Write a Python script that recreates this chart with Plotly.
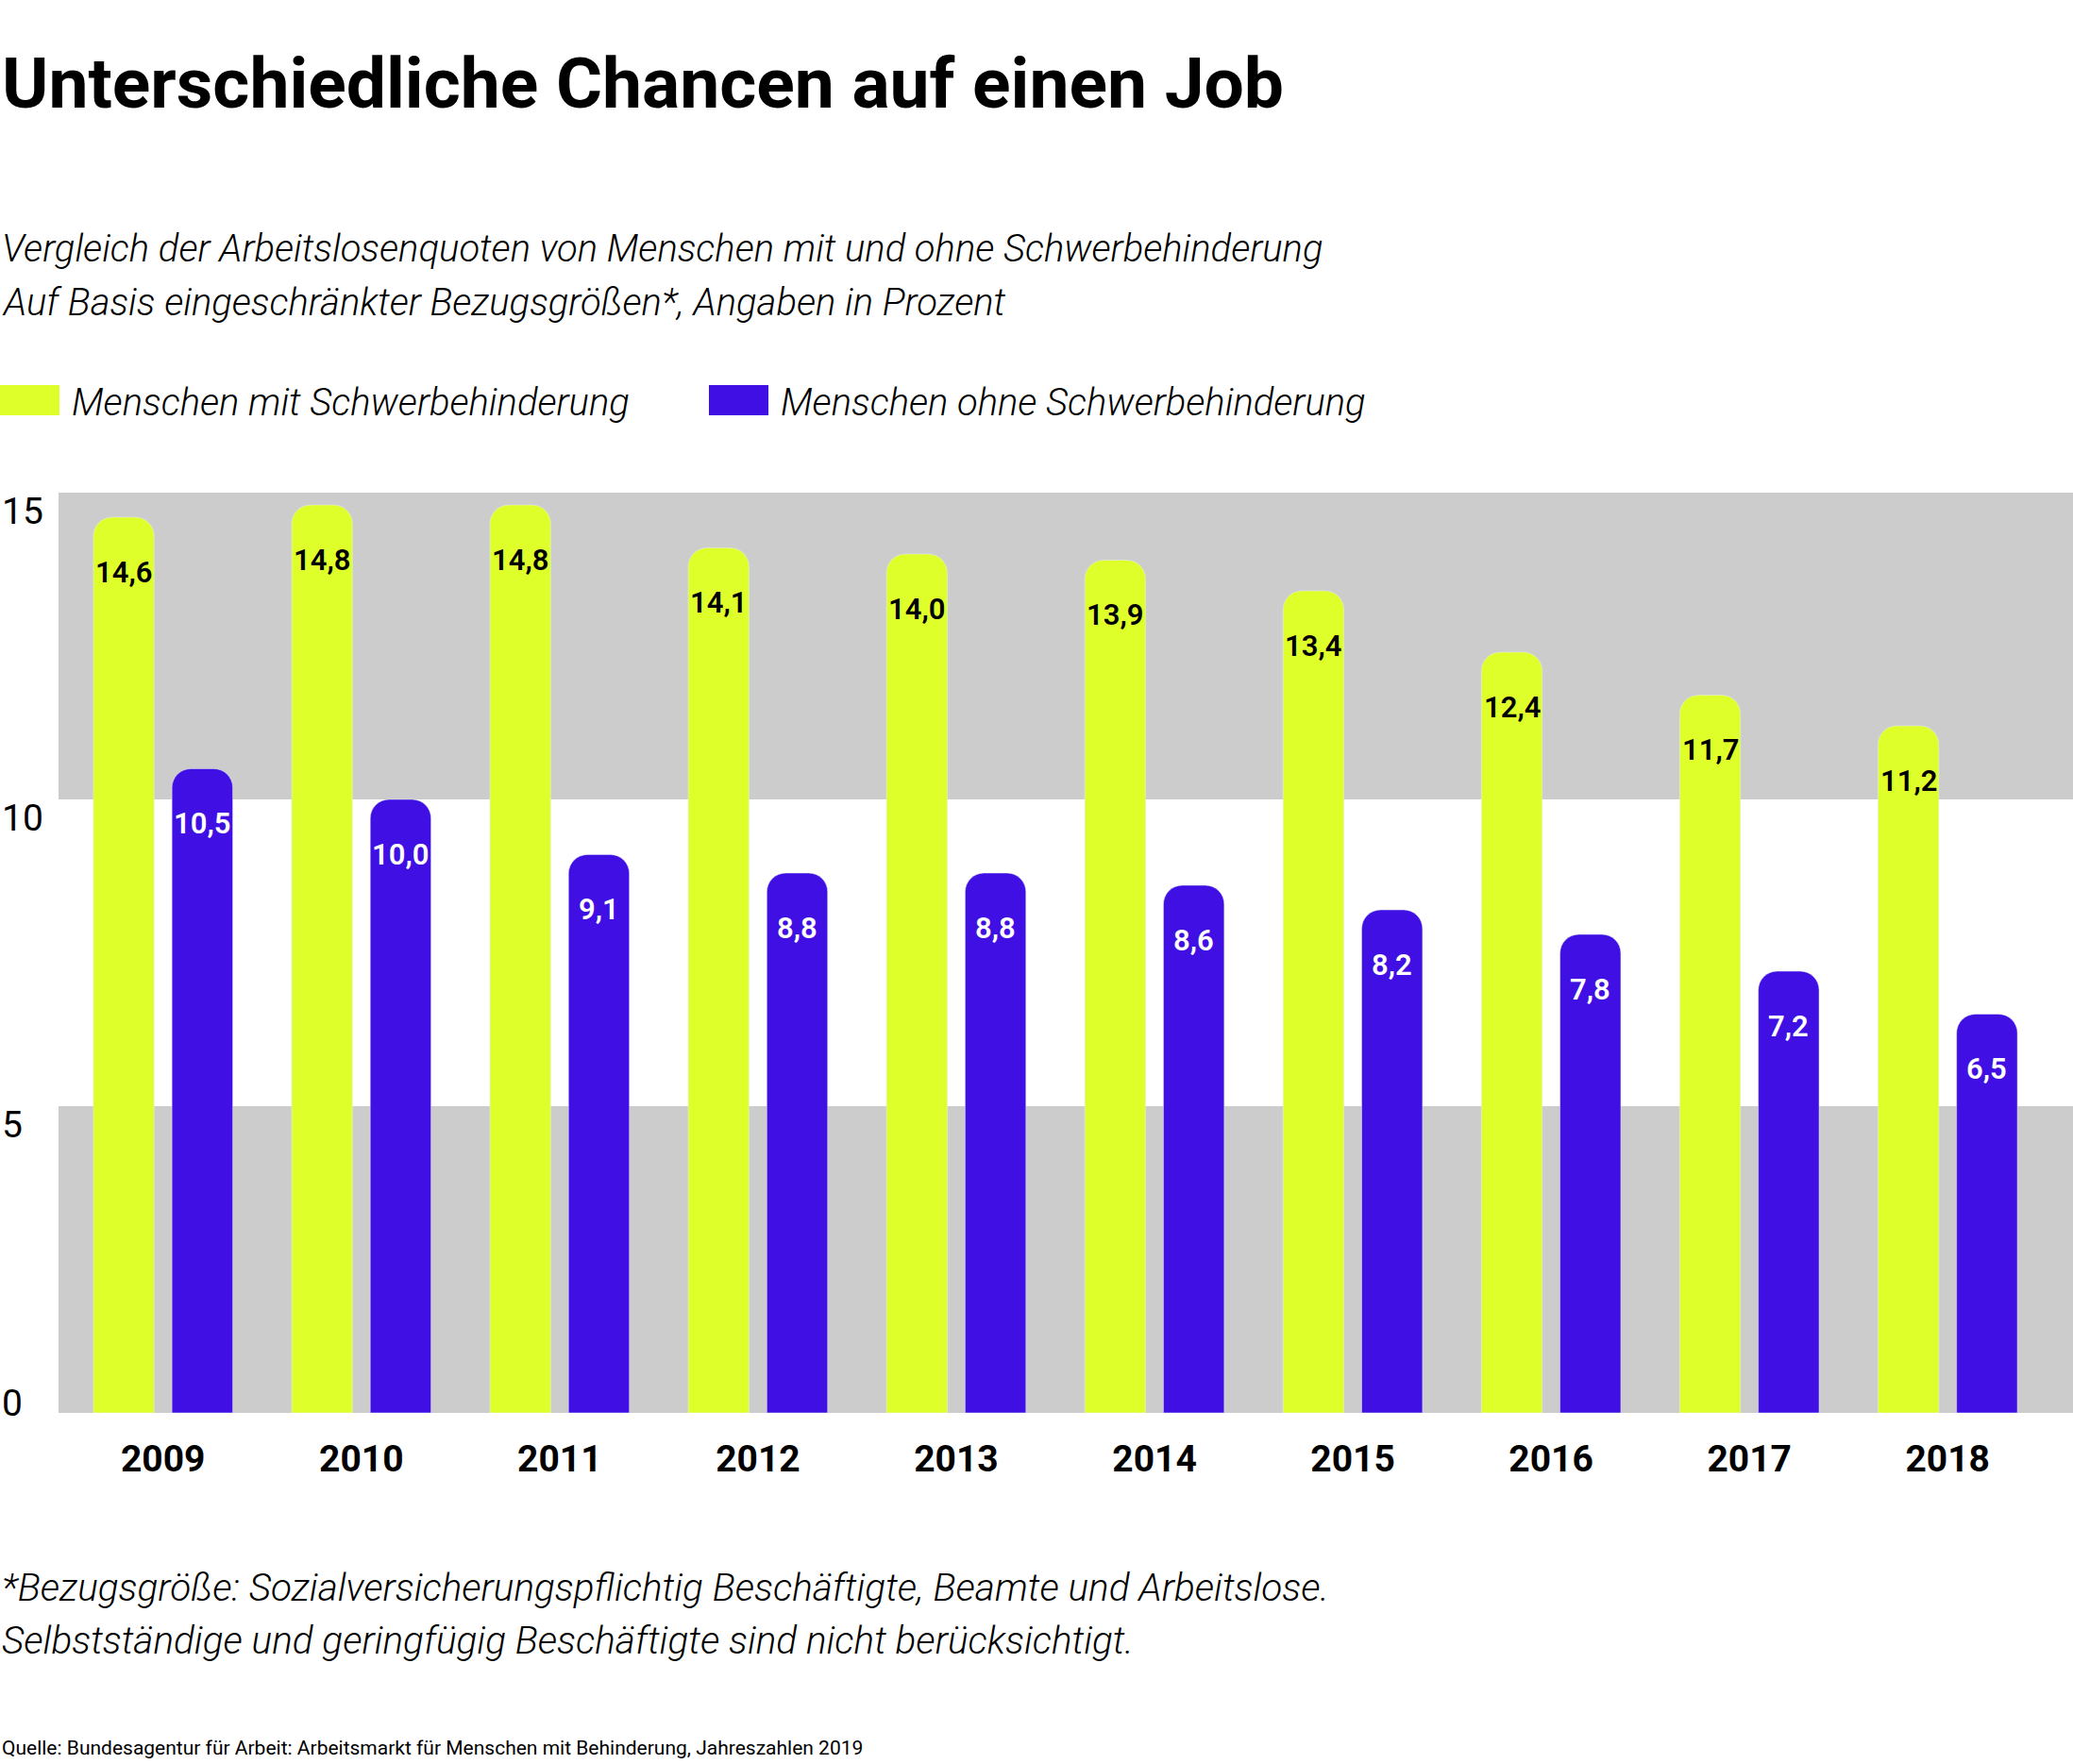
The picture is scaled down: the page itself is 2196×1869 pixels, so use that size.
import plotly.graph_objects as go

# Daten: Arbeitslosenquoten in Prozent
jahre = ["2009", "2010", "2011", "2012", "2013", "2014", "2015", "2016", "2017", "2018"]
mit_schwerbehinderung = [14.6, 14.8, 14.8, 14.1, 14.0, 13.9, 13.4, 12.4, 11.7, 11.2]
ohne_schwerbehinderung = [10.5, 10.0, 9.1, 8.8, 8.8, 8.6, 8.2, 7.8, 7.2, 6.5]
y_ticks = [0, 5, 10, 15]

GELB = "#DFFF2B"
LILA = "#3F0FE3"
GRAU = "#CCCCCC"
FONT = "Roboto"

W, H = 2196, 1869
L, R, T, B = 62, 0, 522, 372
PW, PH = W - L - R, H - T - B


def px_x(x):
    return (x - L) / PW


def px_y(y):
    return (H - B - y) / PH


def de(v):
    return f"{v:.1f}".replace(".", ",")


fig = go.Figure()
fig.add_trace(go.Bar(x=jahre, y=mit_schwerbehinderung, marker_color=GELB,
                     name="Menschen mit Schwerbehinderung", hoverinfo="skip"))
fig.add_trace(go.Bar(x=jahre, y=ohne_schwerbehinderung, marker_color=LILA,
                     name="Menschen ohne Schwerbehinderung", hoverinfo="skip"))

# graue Hintergrundbänder 0-5 und 10-15
for y0, y1 in [(0, 5), (10, 15)]:
    fig.add_shape(type="rect", xref="paper", yref="y", x0=0, x1=1, y0=y0, y1=y1,
                  fillcolor=GRAU, line_width=0, layer="below")

annotations = []

# Werte in den Balken
off = 0.198
for i, (a, b) in enumerate(zip(mit_schwerbehinderung, ohne_schwerbehinderung)):
    annotations.append(dict(x=i - off, y=a, xref="x", yref="y", text=de(a), showarrow=False,
                            yshift=-58, font=dict(family=FONT, size=31, color="black", weight=600)))
    annotations.append(dict(x=i + off, y=b, xref="x", yref="y", text=de(b), showarrow=False,
                            yshift=-58, font=dict(family=FONT, size=31, color="white", weight=600)))

# y-Achsenbeschriftung linksbündig
for t in y_ticks:
    annotations.append(dict(x=px_x(0), y=t, xref="paper", yref="y", text=str(t), showarrow=False,
                            xanchor="left", yanchor="middle", yshift=-20 if t > 0 else 10,
                            font=dict(family=FONT, size=39, color="black")))

# Titel, Untertitel, Fußnoten
texte = [
    ("Unterschiedliche Chancen auf einen Job", 0, 88, 75, 700, "normal"),
    ("Vergleich der Arbeitslosenquoten von Menschen mit und ohne Schwerbehinderung", 0, 264, 40, 300, "italic"),
    ("Auf Basis eingeschränkter Bezugsgrößen*, Angaben in Prozent", 0, 320, 40, 300, "italic"),
    ("Menschen mit Schwerbehinderung", 74, 426, 40, 300, "italic"),
    ("Menschen ohne Schwerbehinderung", 825, 426, 40, 300, "italic"),
    ("*Bezugsgröße: Sozialversicherungspflichtig Beschäftigte, Beamte und Arbeitslose.", 0, 1682, 40.5, 300, "italic"),
    ("Selbstständige und geringfügig Beschäftigte sind nicht berücksichtigt.", 0, 1738, 40.5, 300, "italic"),
    ("Quelle: Bundesagentur für Arbeit: Arbeitsmarkt für Menschen mit Behinderung, Jahreszahlen 2019",
     0, 1852, 21, 400, "normal"),
]
for text, x, y, size, weight, style in texte:
    annotations.append(dict(x=px_x(x), y=px_y(y), xref="paper", yref="paper", text=text,
                            showarrow=False, xanchor="left", yanchor="middle",
                            font=dict(family=FONT, size=size, color="black", weight=weight, style=style)))

# Legendenkästchen
for x0, farbe in [(0, GELB), (751, LILA)]:
    fig.add_shape(type="rect", xref="paper", yref="paper",
                  x0=px_x(x0), x1=px_x(x0 + 63), y0=px_y(440), y1=px_y(408),
                  fillcolor=farbe, line_width=0)

fig.update_layout(
    width=W, height=H,
    margin=dict(l=L, r=R, t=T, b=B),
    paper_bgcolor="white", plot_bgcolor="white",
    barmode="group", bargap=0.207, bargroupgap=0.227, barcornerradius=20,
    showlegend=False,
    annotations=annotations,
    xaxis=dict(type="category", range=[-0.527, 9.632], showgrid=False, zeroline=False,
               showline=False, ticks="", ticklabelstandoff=22,
               tickfont=dict(family=FONT, size=39, color="black", weight=700)),
    yaxis=dict(range=[0, 15], showgrid=False, zeroline=False, showline=False,
               showticklabels=False, ticks=""),
)

fig.write_html("out.html", config={"displayModeBar": False},
               post_script="document.body.style.margin='0px';")
